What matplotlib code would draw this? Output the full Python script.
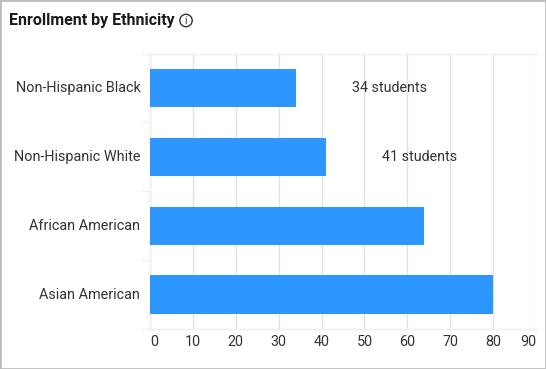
import matplotlib
matplotlib.use("Agg")
import matplotlib.pyplot as plt
from matplotlib.patches import Circle, Rectangle
from matplotlib.transforms import ScaledTranslation

categories = ["Non-Hispanic Black", "Non-Hispanic White", "African American", "Asian American"]
students = [34, 41, 64, 80]
bar_labels = ["34 students", "41 students", None, None]
xticks = [0, 10, 20, 30, 40, 50, 60, 70, 80, 90]

W, H = 546, 369
plt.rcParams["font.family"] = ["Roboto", "DejaVu Sans"]

fig = plt.figure(figsize=(W / 100, H / 100), dpi=100)
# pixel positions
left, right, top, bottom = 150, 536, 53.5, 329
ax = fig.add_axes([left / W, 1 - bottom / H, (right - left) / W, (bottom - top) / H])

ypos = list(range(len(categories)))
ax.barh(ypos, students, height=0.557, color="#2e96ff", zorder=3)
ax.set_ylim(3.5, -0.5)
ax.set_xlim(0, 90)

ax.set_xticks(xticks)
ax.set_xticklabels(xticks, fontsize=10.4, color="#333333")
ax.get_xticklabels()[0].set_ha("left")
ax.get_xticklabels()[-1].set_ha("right")
ax.tick_params(axis="x", length=0, pad=4)

ax.set_yticks(ypos)
ax.set_yticklabels(categories, fontsize=10.4, color="#333333")
ax.set_yticks([-0.5, 0.5, 1.5, 2.5, 3.5], minor=True)
ax.tick_params(axis="y", which="major", length=0, pad=7)
ax.tick_params(axis="y", which="minor", length=6, width=1, color="#eeeeee")
# nudge the category labels up a pixel
nudge = ScaledTranslation(0, 1 / 100, fig.dpi_scale_trans)
for t in ax.get_yticklabels():
    t.set_transform(t.get_transform() + nudge)

ax.grid(axis="x", color="#e2e2e2", linewidth=1, zorder=0)
ax.set_axisbelow(True)
for s in ["right"]:
    ax.spines[s].set_visible(False)
for s in ["top", "bottom", "left"]:
    ax.spines[s].set_color("#eeeeee")
    ax.spines[s].set_linewidth(1)

for y, v, lab in zip(ypos, students, bar_labels):
    if lab:
        ax.annotate(lab, (v, y), xytext=(40.5, 0), textcoords="offset points",
                    va="center", ha="left", fontsize=10.3, color="#333333", zorder=4)

fig.text(9 / W, 1 - 20 / H, "Enrollment by Ethnicity", fontsize=11.5, fontweight="bold",
         color="#1a1a1a", va="center", ha="left")

# info icon and the card border
fig.add_artist(Circle((186, H - 20.5), 6.2, transform=None, fill=False, edgecolor="#333333", linewidth=1))
fig.text(186 / W, 1 - 20.5 / H, "i", fontsize=7.5, color="#333333", ha="center", va="center")
fig.add_artist(Rectangle((0, 0), 1, 1, transform=fig.transFigure, fill=False, edgecolor="#bdbdbd", linewidth=2))

fig.savefig("out.png", dpi=100)
